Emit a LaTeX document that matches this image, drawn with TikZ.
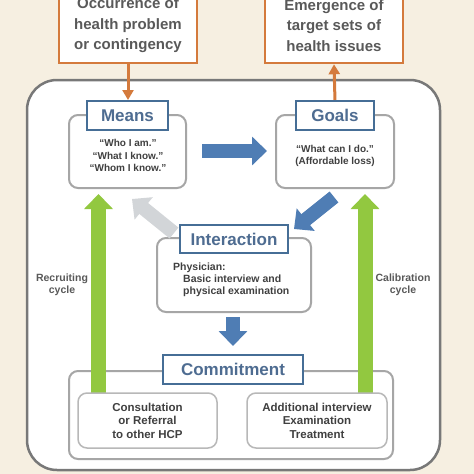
\documentclass[tikz,border=0pt]{standalone}
\usepackage{fontspec}
\setmainfont{Liberation Sans}
\usetikzlibrary{arrows.meta}
\definecolor{bgc}{RGB}{246,239,225}
\definecolor{orangec}{RGB}{212,122,60}
\definecolor{framec}{RGB}{120,120,120}
\definecolor{panelc}{RGB}{166,166,166}
\definecolor{titleborder}{RGB}{70,110,150}
\definecolor{titletext}{RGB}{78,108,145}
\definecolor{bluearrow}{RGB}{79,125,180}
\definecolor{grayarrow}{RGB}{210,213,216}
\definecolor{greenc}{RGB}{146,200,64}
\definecolor{textgray}{RGB}{64,64,64}
\definecolor{textgray2}{RGB}{89,89,89}
\tikzset{
  orangebox/.style={draw=orangec, line width=2.5pt, fill=white, minimum width=138pt, minimum height=75pt, inner sep=0pt, align=center, text=textgray2, font=\fontsize{15}{20.5}\selectfont\bfseries},
  panel/.style={draw=panelc, line width=2pt, fill=white, rounded corners=9pt, inner sep=0pt},
  titlebox/.style={draw=titleborder, line width=1.6pt, fill=white, text=titletext, font=\fontsize{17}{17}\selectfont\bfseries, inner sep=0pt},
  bodytext/.style={text=textgray, font=\fontsize{10}{12.5}\selectfont\bfseries, align=center, inner sep=0pt},
  subtext/.style={text=textgray, font=\fontsize{11.5}{13.5}\selectfont\bfseries, align=center},
  cyclelabel/.style={text=textgray2, font=\fontsize{10.5}{11.5}\selectfont\bfseries, align=center, inner sep=0pt},
  bigarrow/.style={line width=14pt, -{Triangle[width=28pt,length=15pt]}},
  greenarrow/.style={draw=greenc, line width=15pt, -{Triangle[width=28pt,length=15pt]}},
  orangearrow/.style={draw=orangec, line width=3pt, -{Triangle[width=11pt,length=10pt]}}
}
\begin{document}
\begin{tikzpicture}[x=1pt,y=-1pt]
\useasboundingbox[fill=bgc] (0,0) rectangle (474,474);
\clip (0,0) rectangle (474,474);
% outer frame
\draw[draw=framec, line width=2.5pt, fill=white, rounded corners=30pt] (27,80) rectangle (440,470);
% orange boxes
\node[orangebox] (occ) at (128,25.5) {Occurrence of\\health problem\\or contingency};
\node[orangebox] (emg) at (334,25.5) {Emergence of\\target sets of\\health issues};
% panels
\node[panel, minimum width=117pt, minimum height=73pt] (means) at (127.5,151.5) {};
\node[panel, minimum width=118pt, minimum height=73pt] (goals) at (335,151.5) {};
\node[panel, minimum width=154pt, minimum height=74pt] (inter) at (234,275) {};
\node[panel, minimum width=324pt, minimum height=88pt] (commit) at (231,415) {};
% coordinates for arrows
\coordinate (occA) at (128,63);
\coordinate (meansT) at (128,100);
\coordinate (goalsT) at (335,101);
\coordinate (emgB) at (335,63);
\coordinate (mgA) at (202,151);
\coordinate (mgB) at (267,151);
\coordinate (giA) at (334,197);
\coordinate (giB) at (294,229);
\coordinate (imA) at (174,233);
\coordinate (imB) at (132,199);
\coordinate (icA) at (233,317);
\coordinate (icB) at (233,346);
\coordinate (glA) at (98.5,393);
\coordinate (glB) at (98.5,194);
\coordinate (grA) at (365,393);
\coordinate (grB) at (365,194);
% arrows
\draw[orangearrow] (occ.south) -- (meansT);
\draw[orangearrow] (goalsT) -- (emg.south);
\draw[bigarrow, draw=bluearrow] (mgA) -- (mgB);
\draw[bigarrow, draw=bluearrow] (giA) -- (giB);
\draw[bigarrow, draw=grayarrow] (imA) -- (imB);
\draw[bigarrow, draw=bluearrow] (icA) -- (icB);
\draw[greenarrow] (glA) -- (glB);
\draw[greenarrow] (grA) -- (grB);
% title boxes
\node[titlebox, minimum width=81pt, minimum height=29pt] (meansT0) at (127.5,115.5) {Means};
\node[titlebox, minimum width=78pt, minimum height=29pt] (goalsT0) at (335,115.5) {Goals};
\node[titlebox, minimum width=108pt, minimum height=28pt] (interT) at (234,239) {Interaction};
\node[titlebox, minimum width=140pt, minimum height=29pt] (commitT) at (233,369.5) {Commitment};
% sub boxes
\node[panel, draw=panelc!80, line width=1.5pt, minimum width=139pt, minimum height=55pt, subtext] (subL) at (147.5,420.5) {Consultation\\or Referral\\to other HCP};
\node[panel, draw=panelc!80, line width=1.5pt, minimum width=140pt, minimum height=55pt, subtext] (subR) at (317,420.5) {Additional interview\\Examination\\Treatment};
% body texts
\node[bodytext] (meansX) at (128,155.5) {``Who I am.''\\``What I know.''\\``Whom I know.''};
\node[bodytext] (goalsX) at (335,156) {``What can I do.''\\(Affordable loss)};
\node[bodytext, align=left, anchor=west, font=\fontsize{10.5}{12}\selectfont\bfseries] (interX) at (173,280) {Physician:\\\hspace*{10pt}Basic interview and\\\hspace*{10pt}physical examination};
% cycle labels
\node[cyclelabel] (recr) at (62,285) {Recruiting\\cycle};
\node[cyclelabel] (calib) at (403,285) {Calibration\\cycle};
\end{tikzpicture}
\end{document}
